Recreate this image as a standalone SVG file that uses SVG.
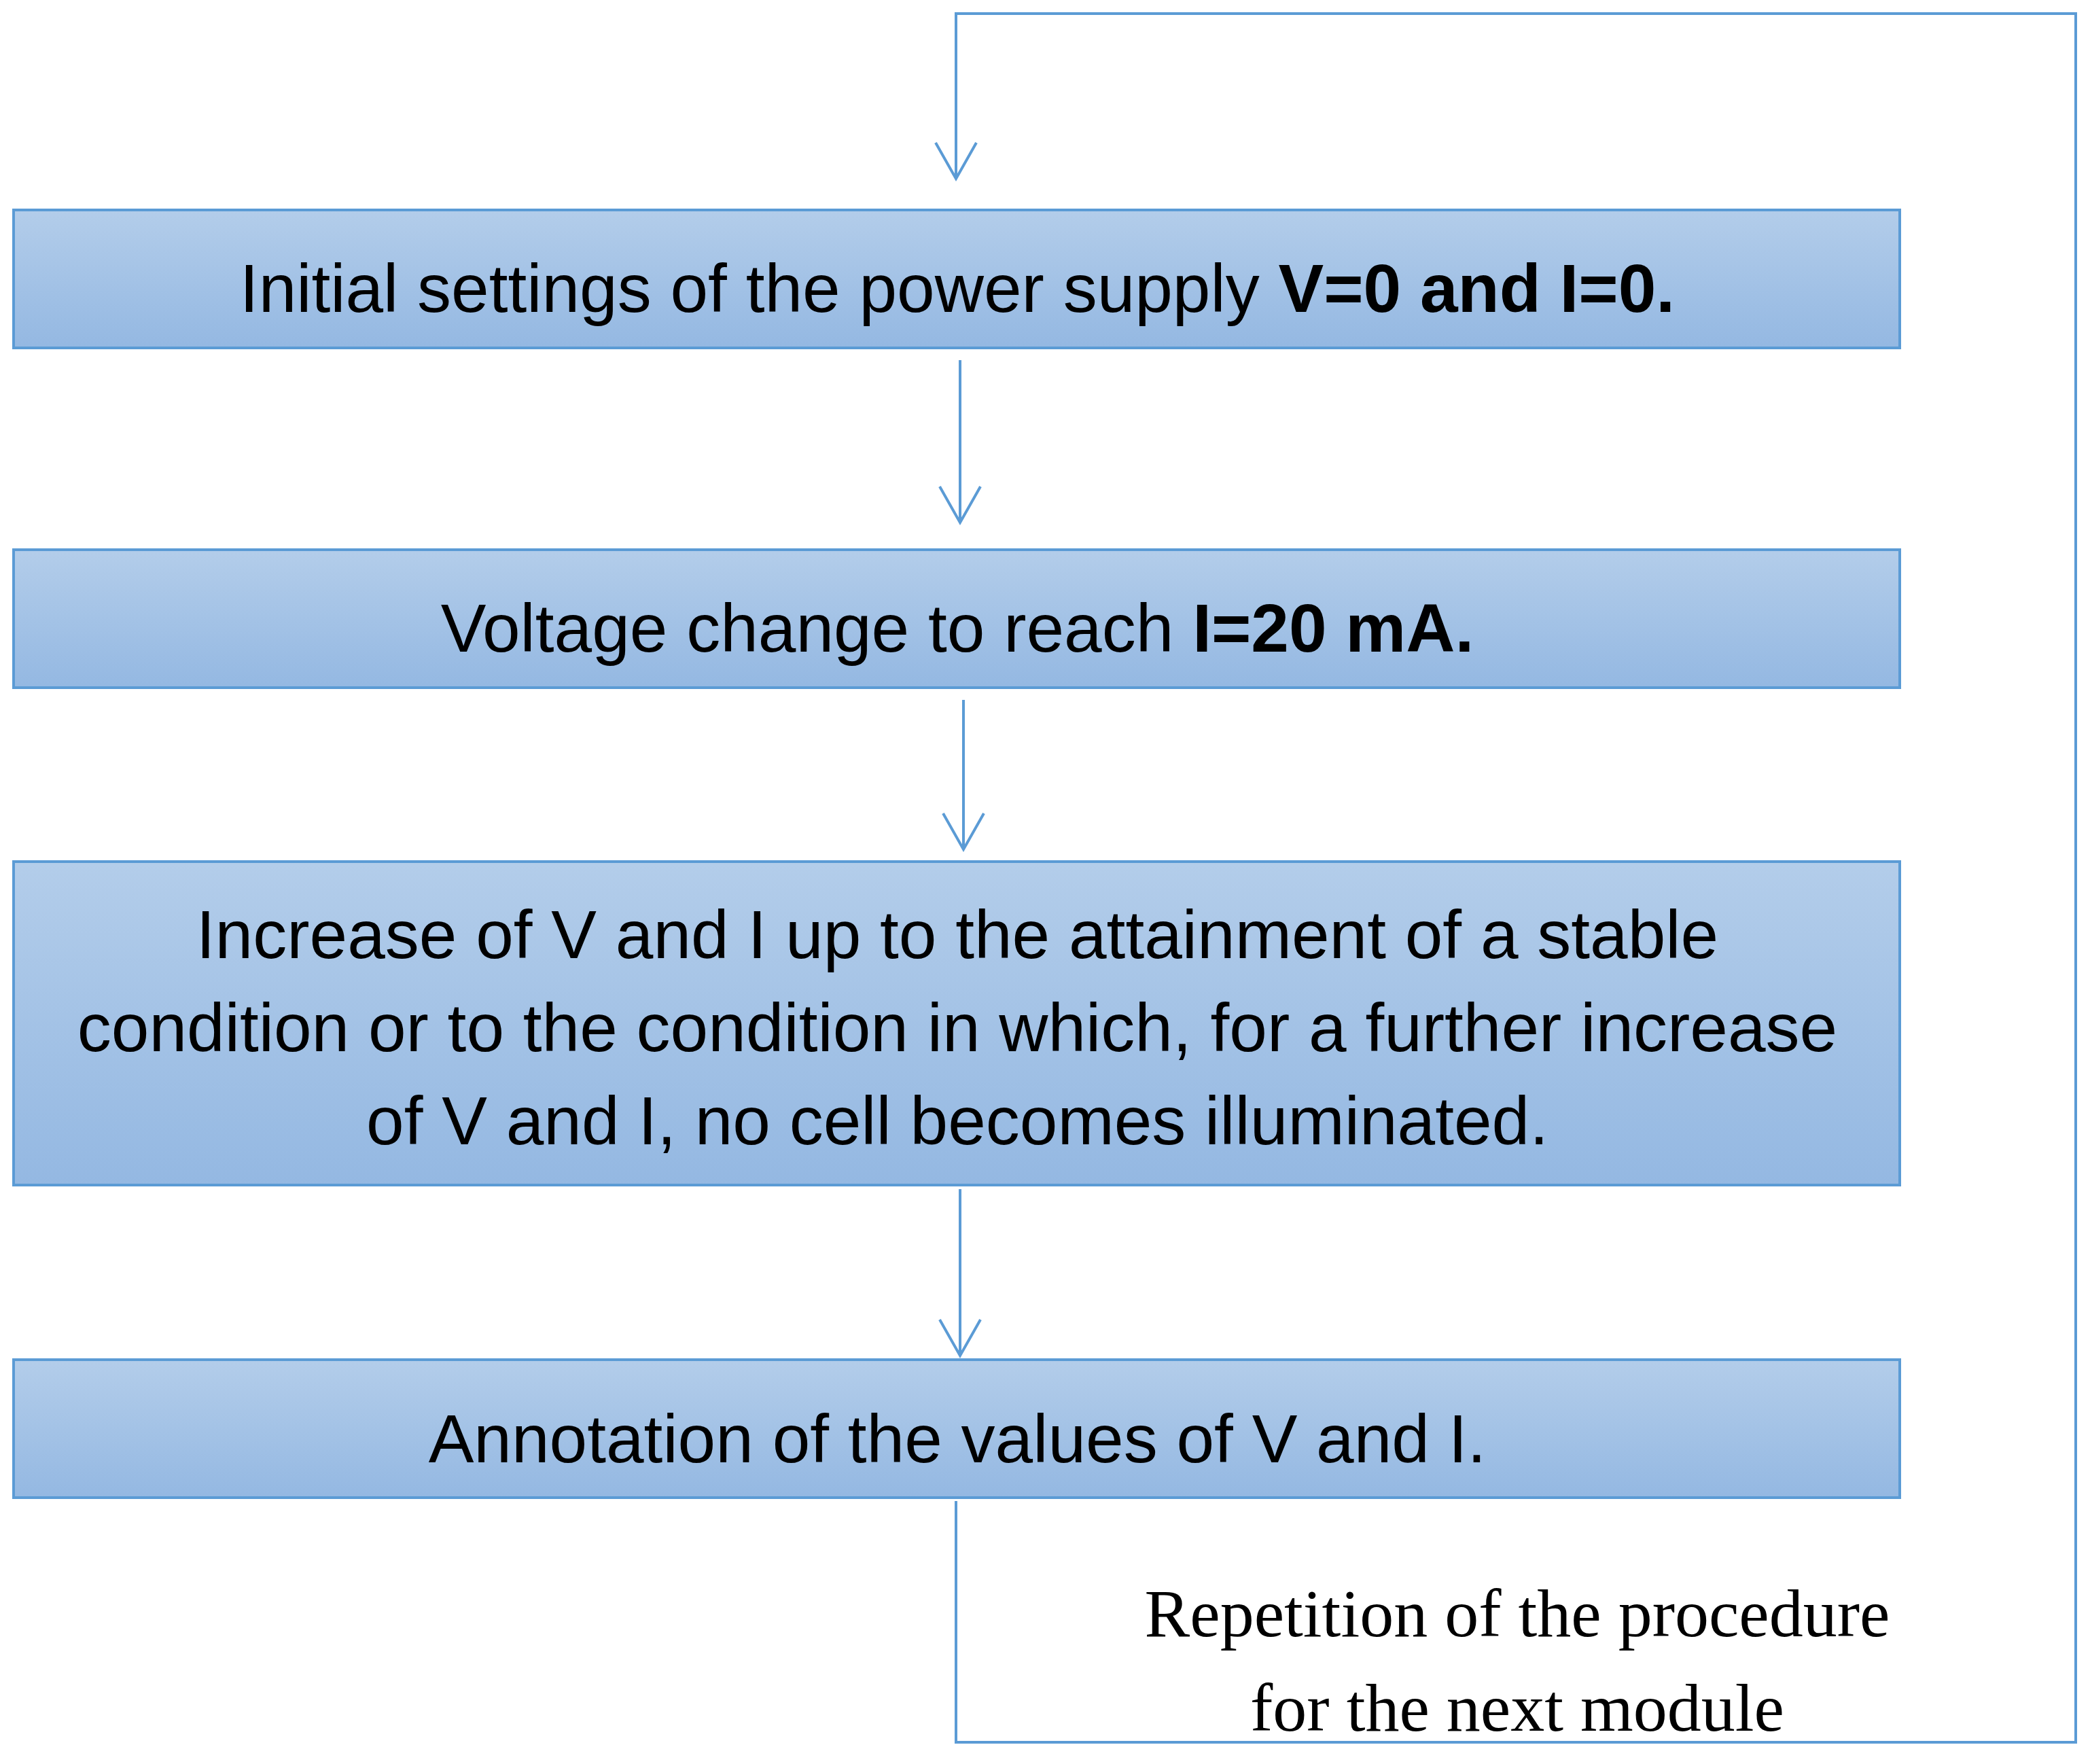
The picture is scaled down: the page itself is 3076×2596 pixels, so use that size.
<svg xmlns="http://www.w3.org/2000/svg" width="3076" height="2596" viewBox="0 0 3076 2596">
<defs>
<linearGradient id="g" x1="0" y1="0" x2="0" y2="1"><stop offset="0" stop-color="#B3CDEA"/><stop offset="1" stop-color="#94B8E2"/></linearGradient>
<style>.b{fill:url(#g);stroke:#5B9BD5;stroke-width:4}.t{font-family:"Liberation Sans",Arial,sans-serif;font-size:100px;fill:#000;text-anchor:middle}.c{fill:none;stroke:#5B9BD5;stroke-width:4}.s{font-family:"Liberation Serif","Times New Roman",serif;font-size:100px;fill:#000;text-anchor:middle}</style>
</defs>
<rect width="3076" height="2596" fill="#fff"/>
<g id="connectors">
<path class="c" d="M1407 2209 V2564 H3055 V20 H1407 V263"/>
<path class="c" d="M1377 210 L1407 263 L1437 210"/>
<path class="c" d="M1413 530 V769 M1383 716 L1413 769 L1443 716"/>
<path class="c" d="M1418 1030 V1250 M1388 1197 L1418 1250 L1448 1197"/>
<path class="c" d="M1413 1750 V1995 M1383 1942 L1413 1995 L1443 1942"/>
</g>
<g id="n1"><rect class="b" x="20" y="309" width="2776" height="203"/><text class="t" x="1409" y="459">Initial settings of the power supply <tspan font-weight="bold">V=0 and I=0.</tspan></text></g>
<g id="n2"><rect class="b" x="20" y="809" width="2776" height="203"/><text class="t" x="1409" y="959">Voltage change to reach <tspan font-weight="bold">I=20 mA.</tspan></text></g>
<g id="n3"><rect class="b" x="20" y="1268" width="2776" height="476"/><text class="t" x="1409" y="1410">Increase of V and I up to the attainment of a stable</text><text class="t" x="1409" y="1547">condition or to the condition in which, for a further increase</text><text class="t" x="1409" y="1684">of V and I, no cell becomes illuminated.</text></g>
<g id="n4"><rect class="b" x="20" y="2001" width="2776" height="203"/><text class="t" x="1409" y="2152">Annotation of the values of V and I.</text></g>
<g id="label"><text class="s" x="2233" y="2408">Repetition of the procedure</text><text class="s" x="2233" y="2547">for the next module</text></g>
</svg>
